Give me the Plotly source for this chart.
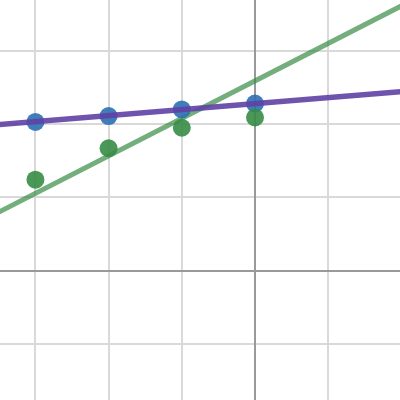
import plotly.graph_objects as go

# Data (grid unit = 1)
x_points = [-3, -2, -1, 0]
blue_y = [2.03, 2.11, 2.20, 2.28]
green_y = [1.24, 1.67, 1.95, 2.09]

# Straight lines: slope and intercept
purple_slope, purple_intercept = 0.082, 2.28
green_slope, green_intercept = 0.512, 2.59

x_range = [-3.484, 1.981]
y_range = [-1.769, 3.695]

line_x = [x_range[0] - 1, x_range[1] + 1]

fig = go.Figure()
fig.add_trace(go.Scatter(
    x=line_x, y=[green_slope * v + green_intercept for v in line_x],
    mode="lines", line=dict(color="#388c46", width=5), opacity=0.7,
    hoverinfo="skip"))
fig.add_trace(go.Scatter(
    x=x_points, y=blue_y, mode="markers",
    marker=dict(color="#2d70b3", size=18, line=dict(width=0)), opacity=0.9))
fig.add_trace(go.Scatter(
    x=line_x, y=[purple_slope * v + purple_intercept for v in line_x],
    mode="lines", line=dict(color="#6042a6", width=5.5), opacity=0.9,
    hoverinfo="skip"))
fig.add_trace(go.Scatter(
    x=x_points, y=green_y, mode="markers",
    marker=dict(color="#388c46", size=18, line=dict(width=0)), opacity=0.9))

axis_common = dict(
    dtick=1, showgrid=True, gridcolor="#d9d9d9", gridwidth=1.5,
    zeroline=True, zerolinecolor="#999999", zerolinewidth=2,
    showticklabels=False, ticks="", showline=False,
)
fig.update_xaxes(range=x_range, tick0=0, **axis_common)
fig.update_yaxes(range=y_range, tick0=0, **axis_common)
fig.update_layout(
    width=400, height=400, margin=dict(l=0, r=0, t=0, b=0),
    paper_bgcolor="white", plot_bgcolor="white", showlegend=False,
)
fig.write_html(
    "out.html",
    config={"displayModeBar": False},
    post_script="document.body.style.margin='0';document.body.style.overflow='hidden';",
)
